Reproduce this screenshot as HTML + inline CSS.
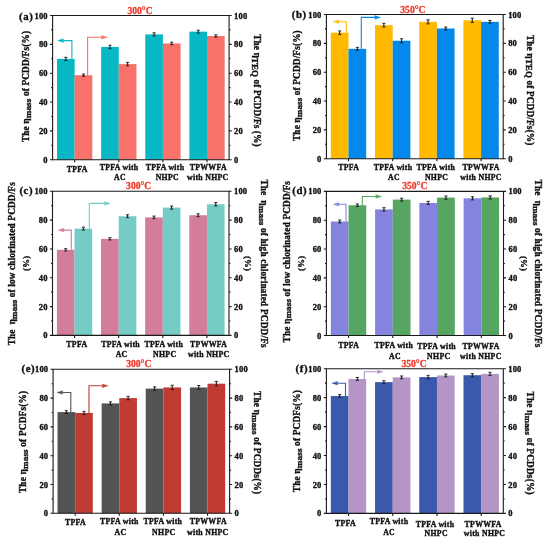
<!DOCTYPE html>
<html><head><meta charset="utf-8"><style>
html,body{margin:0;padding:0;background:#fff;}
body{width:550px;height:544px;overflow:hidden;}
svg{display:block;will-change:transform;filter:blur(0.3px);}
text{font-family:"Liberation Serif", serif;font-weight:bold;fill:#111;stroke:#111;stroke-width:0.35px;}
</style></head><body>
<svg width="550" height="544" viewBox="0 0 550 544">
<rect width="550" height="544" fill="#fff"/>
<rect x="57.01" y="58.90" width="17.65" height="100.80" fill="#07B8C4"/>
<rect x="74.66" y="75.20" width="17.65" height="84.50" fill="#F8716A"/>
<rect x="101.14" y="46.94" width="17.65" height="112.76" fill="#07B8C4"/>
<rect x="118.79" y="64.10" width="17.65" height="95.60" fill="#F8716A"/>
<rect x="145.26" y="34.39" width="17.65" height="125.31" fill="#07B8C4"/>
<rect x="162.91" y="43.47" width="17.65" height="116.23" fill="#F8716A"/>
<rect x="189.39" y="31.65" width="17.65" height="128.05" fill="#07B8C4"/>
<rect x="207.04" y="35.98" width="17.65" height="123.72" fill="#F8716A"/>
<path d="M64.24 57.32H67.44M64.24 60.49H67.44" stroke="#1e1e1e" stroke-width="0.9" fill="none"/><path d="M65.84 57.32V60.49" stroke="#1e1e1e" stroke-width="1.1" fill="none"/>
<path d="M81.89 74.05H85.09M81.89 76.35H85.09" stroke="#1e1e1e" stroke-width="0.9" fill="none"/><path d="M83.49 74.05V76.35" stroke="#1e1e1e" stroke-width="1.1" fill="none"/>
<path d="M108.36 45.21H111.56M108.36 48.67H111.56" stroke="#1e1e1e" stroke-width="0.9" fill="none"/><path d="M109.96 45.21V48.67" stroke="#1e1e1e" stroke-width="1.1" fill="none"/>
<path d="M126.01 62.36H129.21M126.01 65.83H129.21" stroke="#1e1e1e" stroke-width="0.9" fill="none"/><path d="M127.61 62.36V65.83" stroke="#1e1e1e" stroke-width="1.1" fill="none"/>
<path d="M152.49 32.80H155.69M152.49 35.98H155.69" stroke="#1e1e1e" stroke-width="0.9" fill="none"/><path d="M154.09 32.80V35.98" stroke="#1e1e1e" stroke-width="1.1" fill="none"/>
<path d="M170.14 42.18H173.34M170.14 44.77H173.34" stroke="#1e1e1e" stroke-width="0.9" fill="none"/><path d="M171.74 42.18V44.77" stroke="#1e1e1e" stroke-width="1.1" fill="none"/>
<path d="M196.61 30.21H199.81M196.61 33.09H199.81" stroke="#1e1e1e" stroke-width="0.9" fill="none"/><path d="M198.21 30.21V33.09" stroke="#1e1e1e" stroke-width="1.1" fill="none"/>
<path d="M214.26 34.82H217.46M214.26 37.13H217.46" stroke="#1e1e1e" stroke-width="0.9" fill="none"/><path d="M215.86 34.82V37.13" stroke="#1e1e1e" stroke-width="1.1" fill="none"/>
<path d="M71.90 58.90V40.60H63.30" stroke="#07B8C4" stroke-width="1.1" fill="none"/>
<path d="M57.70 40.60L63.50 38.80L63.20 40.60L63.50 42.40Z" fill="#07B8C4" stroke="#07B8C4" stroke-width="0.4" stroke-linejoin="round"/>
<path d="M87.60 75.20V37.30H101.70" stroke="#F8716A" stroke-width="1.1" fill="none"/>
<path d="M107.30 37.30L101.50 35.50L101.80 37.30L101.50 39.10Z" fill="#F8716A" stroke="#F8716A" stroke-width="0.4" stroke-linejoin="round"/>
<path d="M52.60 15.50V159.70H229.10V15.50Z" stroke="#1a1a1a" stroke-width="1.1" fill="none"/>
<path d="M50.00 159.70H52.60M229.10 159.70H231.70M51.20 145.28H52.60M229.10 145.28H230.50M50.00 130.86H52.60M229.10 130.86H231.70M51.20 116.44H52.60M229.10 116.44H230.50M50.00 102.02H52.60M229.10 102.02H231.70M51.20 87.60H52.60M229.10 87.60H230.50M50.00 73.18H52.60M229.10 73.18H231.70M51.20 58.76H52.60M229.10 58.76H230.50M50.00 44.34H52.60M229.10 44.34H231.70M51.20 29.92H52.60M229.10 29.92H230.50M50.00 15.50H52.60M229.10 15.50H231.70M74.66 159.70V162.20M118.79 159.70V162.20M162.91 159.70V162.20M207.04 159.70V162.20" stroke="#1a1a1a" stroke-width="1.1" fill="none"/>
<text x="47.70" y="162.79" text-anchor="end" font-size="8.5" letter-spacing="0.15">0</text>
<text x="234.10" y="162.79" text-anchor="start" font-size="8.5" letter-spacing="0.15">0</text>
<text x="47.70" y="133.95" text-anchor="end" font-size="8.5" letter-spacing="0.15">20</text>
<text x="234.10" y="133.95" text-anchor="start" font-size="8.5" letter-spacing="0.15">20</text>
<text x="47.70" y="105.11" text-anchor="end" font-size="8.5" letter-spacing="0.15">40</text>
<text x="234.10" y="105.11" text-anchor="start" font-size="8.5" letter-spacing="0.15">40</text>
<text x="47.70" y="76.27" text-anchor="end" font-size="8.5" letter-spacing="0.15">60</text>
<text x="234.10" y="76.27" text-anchor="start" font-size="8.5" letter-spacing="0.15">60</text>
<text x="47.70" y="47.43" text-anchor="end" font-size="8.5" letter-spacing="0.15">80</text>
<text x="234.10" y="47.43" text-anchor="start" font-size="8.5" letter-spacing="0.15">80</text>
<text x="47.70" y="18.59" text-anchor="end" font-size="8.5" letter-spacing="0.15">100</text>
<text x="234.10" y="18.59" text-anchor="start" font-size="8.5" letter-spacing="0.15">100</text>
<text x="77.30" y="172.00" text-anchor="middle" font-size="7.8" letter-spacing="0.3">TPFA</text>
<text x="119.10" y="169.60" text-anchor="middle" font-size="7.8" letter-spacing="0.3">TPFA with</text>
<text x="120.00" y="180.00" text-anchor="middle" font-size="7.8" letter-spacing="0.3">AC</text>
<text x="165.00" y="169.80" text-anchor="middle" font-size="7.8" letter-spacing="0.3">TPFA with</text>
<text x="167.30" y="180.00" text-anchor="middle" font-size="7.8" letter-spacing="0.3">NHPC</text>
<text x="208.30" y="169.80" text-anchor="middle" font-size="7.8" letter-spacing="0.3">TPWWFA</text>
<text x="207.80" y="180.20" text-anchor="middle" font-size="7.8" letter-spacing="0.3">with NHPC</text>
<text x="140.00" y="13.70" text-anchor="middle" font-size="9.6" letter-spacing="0" style="fill:#F03A2C;stroke:#F03A2C;stroke-width:0.3px">300°C</text>
<text x="19.10" y="19.70" font-size="10.8" letter-spacing="0.6">(a)</text>
<rect x="330.82" y="32.67" width="17.68" height="126.03" fill="#FFBA00"/>
<rect x="348.50" y="48.82" width="17.68" height="109.88" fill="#0389EC"/>
<rect x="375.02" y="25.17" width="17.68" height="133.53" fill="#FFBA00"/>
<rect x="392.70" y="40.74" width="17.68" height="117.96" fill="#0389EC"/>
<rect x="419.22" y="21.85" width="17.68" height="136.85" fill="#FFBA00"/>
<rect x="436.90" y="28.49" width="17.68" height="130.21" fill="#0389EC"/>
<rect x="463.42" y="20.27" width="17.68" height="138.43" fill="#FFBA00"/>
<rect x="481.10" y="21.85" width="17.68" height="136.85" fill="#0389EC"/>
<path d="M338.06 30.94H341.26M338.06 34.40H341.26" stroke="#1e1e1e" stroke-width="0.9" fill="none"/><path d="M339.66 30.94V34.40" stroke="#1e1e1e" stroke-width="1.1" fill="none"/>
<path d="M355.74 47.38H358.94M355.74 50.26H358.94" stroke="#1e1e1e" stroke-width="0.9" fill="none"/><path d="M357.34 47.38V50.26" stroke="#1e1e1e" stroke-width="1.1" fill="none"/>
<path d="M382.26 23.30H385.46M382.26 27.05H385.46" stroke="#1e1e1e" stroke-width="0.9" fill="none"/><path d="M383.86 23.30V27.05" stroke="#1e1e1e" stroke-width="1.1" fill="none"/>
<path d="M399.94 38.73H403.14M399.94 42.76H403.14" stroke="#1e1e1e" stroke-width="0.9" fill="none"/><path d="M401.54 38.73V42.76" stroke="#1e1e1e" stroke-width="1.1" fill="none"/>
<path d="M426.46 19.84H429.66M426.46 23.87H429.66" stroke="#1e1e1e" stroke-width="0.9" fill="none"/><path d="M428.06 19.84V23.87" stroke="#1e1e1e" stroke-width="1.1" fill="none"/>
<path d="M444.14 27.05H447.34M444.14 29.93H447.34" stroke="#1e1e1e" stroke-width="0.9" fill="none"/><path d="M445.74 27.05V29.93" stroke="#1e1e1e" stroke-width="1.1" fill="none"/>
<path d="M470.66 18.10H473.86M470.66 22.43H473.86" stroke="#1e1e1e" stroke-width="0.9" fill="none"/><path d="M472.26 18.10V22.43" stroke="#1e1e1e" stroke-width="1.1" fill="none"/>
<path d="M488.34 20.41H491.54M488.34 23.30H491.54" stroke="#1e1e1e" stroke-width="0.9" fill="none"/><path d="M489.94 20.41V23.30" stroke="#1e1e1e" stroke-width="1.1" fill="none"/>
<path d="M346.30 32.67V21.80H338.80" stroke="#FFBA00" stroke-width="1.1" fill="none"/>
<path d="M333.20 21.80L339.00 20.00L338.70 21.80L339.00 23.60Z" fill="#FFBA00" stroke="#FFBA00" stroke-width="0.4" stroke-linejoin="round"/>
<path d="M361.30 48.82V17.40H375.00" stroke="#0389EC" stroke-width="1.1" fill="none"/>
<path d="M380.60 17.40L374.80 15.60L375.10 17.40L374.80 19.20Z" fill="#0389EC" stroke="#0389EC" stroke-width="0.4" stroke-linejoin="round"/>
<path d="M326.40 14.50V158.70H503.20V14.50Z" stroke="#1a1a1a" stroke-width="1.1" fill="none"/>
<path d="M323.80 158.70H326.40M503.20 158.70H505.80M325.00 144.28H326.40M503.20 144.28H504.60M323.80 129.86H326.40M503.20 129.86H505.80M325.00 115.44H326.40M503.20 115.44H504.60M323.80 101.02H326.40M503.20 101.02H505.80M325.00 86.60H326.40M503.20 86.60H504.60M323.80 72.18H326.40M503.20 72.18H505.80M325.00 57.76H326.40M503.20 57.76H504.60M323.80 43.34H326.40M503.20 43.34H505.80M325.00 28.92H326.40M503.20 28.92H504.60M323.80 14.50H326.40M503.20 14.50H505.80M348.50 158.70V161.20M392.70 158.70V161.20M436.90 158.70V161.20M481.10 158.70V161.20" stroke="#1a1a1a" stroke-width="1.1" fill="none"/>
<text x="321.50" y="161.79" text-anchor="end" font-size="8.5" letter-spacing="0.15">0</text>
<text x="508.20" y="161.79" text-anchor="start" font-size="8.5" letter-spacing="0.15">0</text>
<text x="321.50" y="132.95" text-anchor="end" font-size="8.5" letter-spacing="0.15">20</text>
<text x="508.20" y="132.95" text-anchor="start" font-size="8.5" letter-spacing="0.15">20</text>
<text x="321.50" y="104.11" text-anchor="end" font-size="8.5" letter-spacing="0.15">40</text>
<text x="508.20" y="104.11" text-anchor="start" font-size="8.5" letter-spacing="0.15">40</text>
<text x="321.50" y="75.27" text-anchor="end" font-size="8.5" letter-spacing="0.15">60</text>
<text x="508.20" y="75.27" text-anchor="start" font-size="8.5" letter-spacing="0.15">60</text>
<text x="321.50" y="46.43" text-anchor="end" font-size="8.5" letter-spacing="0.15">80</text>
<text x="508.20" y="46.43" text-anchor="start" font-size="8.5" letter-spacing="0.15">80</text>
<text x="321.50" y="17.59" text-anchor="end" font-size="8.5" letter-spacing="0.15">100</text>
<text x="508.20" y="17.59" text-anchor="start" font-size="8.5" letter-spacing="0.15">100</text>
<text x="348.80" y="169.60" text-anchor="middle" font-size="7.8" letter-spacing="0.3">TPFA</text>
<text x="393.00" y="169.60" text-anchor="middle" font-size="7.8" letter-spacing="0.3">TPFA with</text>
<text x="394.00" y="180.00" text-anchor="middle" font-size="7.8" letter-spacing="0.3">AC</text>
<text x="435.90" y="169.60" text-anchor="middle" font-size="7.8" letter-spacing="0.3">TPFA with</text>
<text x="436.60" y="180.00" text-anchor="middle" font-size="7.8" letter-spacing="0.3">NHPC</text>
<text x="481.00" y="169.60" text-anchor="middle" font-size="7.8" letter-spacing="0.3">TPWWFA</text>
<text x="481.00" y="180.00" text-anchor="middle" font-size="7.8" letter-spacing="0.3">with NHPC</text>
<text x="412.90" y="12.60" text-anchor="middle" font-size="9.6" letter-spacing="0" style="fill:#F03A2C;stroke:#F03A2C;stroke-width:0.3px">350°C</text>
<text x="291.80" y="18.20" font-size="10.8" letter-spacing="0.6">(b)</text>
<rect x="56.91" y="249.80" width="17.65" height="85.60" fill="#D47C9B"/>
<rect x="74.56" y="228.62" width="17.65" height="106.78" fill="#74CCC5"/>
<rect x="101.04" y="238.85" width="17.65" height="96.55" fill="#D47C9B"/>
<rect x="118.69" y="216.23" width="17.65" height="119.17" fill="#74CCC5"/>
<rect x="145.16" y="217.38" width="17.65" height="118.02" fill="#D47C9B"/>
<rect x="162.81" y="207.58" width="17.65" height="127.82" fill="#74CCC5"/>
<rect x="189.29" y="215.22" width="17.65" height="120.18" fill="#D47C9B"/>
<rect x="206.94" y="204.27" width="17.65" height="131.13" fill="#74CCC5"/>
<path d="M64.14 248.65H67.34M64.14 250.96H67.34" stroke="#1e1e1e" stroke-width="0.9" fill="none"/><path d="M65.74 248.65V250.96" stroke="#1e1e1e" stroke-width="1.1" fill="none"/>
<path d="M81.79 227.18H84.99M81.79 230.06H84.99" stroke="#1e1e1e" stroke-width="0.9" fill="none"/><path d="M83.39 227.18V230.06" stroke="#1e1e1e" stroke-width="1.1" fill="none"/>
<path d="M108.26 237.70H111.46M108.26 240.01H111.46" stroke="#1e1e1e" stroke-width="0.9" fill="none"/><path d="M109.86 237.70V240.01" stroke="#1e1e1e" stroke-width="1.1" fill="none"/>
<path d="M125.91 214.79H129.11M125.91 217.67H129.11" stroke="#1e1e1e" stroke-width="0.9" fill="none"/><path d="M127.51 214.79V217.67" stroke="#1e1e1e" stroke-width="1.1" fill="none"/>
<path d="M152.39 216.09H155.59M152.39 218.68H155.59" stroke="#1e1e1e" stroke-width="0.9" fill="none"/><path d="M153.99 216.09V218.68" stroke="#1e1e1e" stroke-width="1.1" fill="none"/>
<path d="M170.04 206.00H173.24M170.04 209.17H173.24" stroke="#1e1e1e" stroke-width="0.9" fill="none"/><path d="M171.64 206.00V209.17" stroke="#1e1e1e" stroke-width="1.1" fill="none"/>
<path d="M196.51 213.78H199.71M196.51 216.66H199.71" stroke="#1e1e1e" stroke-width="0.9" fill="none"/><path d="M198.11 213.78V216.66" stroke="#1e1e1e" stroke-width="1.1" fill="none"/>
<path d="M214.16 202.54H217.36M214.16 206.00H217.36" stroke="#1e1e1e" stroke-width="0.9" fill="none"/><path d="M215.76 202.54V206.00" stroke="#1e1e1e" stroke-width="1.1" fill="none"/>
<path d="M71.30 249.80V230.10H63.80" stroke="#D47C9B" stroke-width="1.1" fill="none"/>
<path d="M58.20 230.10L64.00 228.30L63.70 230.10L64.00 231.90Z" fill="#D47C9B" stroke="#D47C9B" stroke-width="0.4" stroke-linejoin="round"/>
<path d="M89.30 228.62V203.40H104.60" stroke="#74CCC5" stroke-width="1.1" fill="none"/>
<path d="M110.20 203.40L104.40 201.60L104.70 203.40L104.40 205.20Z" fill="#74CCC5" stroke="#74CCC5" stroke-width="0.4" stroke-linejoin="round"/>
<path d="M52.50 191.30V335.40H229.00V191.30Z" stroke="#1a1a1a" stroke-width="1.1" fill="none"/>
<path d="M49.90 335.40H52.50M229.00 335.40H231.60M51.10 320.99H52.50M229.00 320.99H230.40M49.90 306.58H52.50M229.00 306.58H231.60M51.10 292.17H52.50M229.00 292.17H230.40M49.90 277.76H52.50M229.00 277.76H231.60M51.10 263.35H52.50M229.00 263.35H230.40M49.90 248.94H52.50M229.00 248.94H231.60M51.10 234.53H52.50M229.00 234.53H230.40M49.90 220.12H52.50M229.00 220.12H231.60M51.10 205.71H52.50M229.00 205.71H230.40M49.90 191.30H52.50M229.00 191.30H231.60M74.56 335.40V337.90M118.69 335.40V337.90M162.81 335.40V337.90M206.94 335.40V337.90" stroke="#1a1a1a" stroke-width="1.1" fill="none"/>
<text x="47.60" y="338.49" text-anchor="end" font-size="8.5" letter-spacing="0.15">0</text>
<text x="234.00" y="338.49" text-anchor="start" font-size="8.5" letter-spacing="0.15">0</text>
<text x="47.60" y="309.67" text-anchor="end" font-size="8.5" letter-spacing="0.15">20</text>
<text x="234.00" y="309.67" text-anchor="start" font-size="8.5" letter-spacing="0.15">20</text>
<text x="47.60" y="280.85" text-anchor="end" font-size="8.5" letter-spacing="0.15">40</text>
<text x="234.00" y="280.85" text-anchor="start" font-size="8.5" letter-spacing="0.15">40</text>
<text x="47.60" y="252.03" text-anchor="end" font-size="8.5" letter-spacing="0.15">60</text>
<text x="234.00" y="252.03" text-anchor="start" font-size="8.5" letter-spacing="0.15">60</text>
<text x="47.60" y="223.21" text-anchor="end" font-size="8.5" letter-spacing="0.15">80</text>
<text x="234.00" y="223.21" text-anchor="start" font-size="8.5" letter-spacing="0.15">80</text>
<text x="47.60" y="194.39" text-anchor="end" font-size="8.5" letter-spacing="0.15">100</text>
<text x="234.00" y="194.39" text-anchor="start" font-size="8.5" letter-spacing="0.15">100</text>
<text x="76.85" y="346.70" text-anchor="middle" font-size="7.8" letter-spacing="0.3">TPFA</text>
<text x="120.60" y="346.70" text-anchor="middle" font-size="7.8" letter-spacing="0.3">TPFA with</text>
<text x="121.60" y="357.20" text-anchor="middle" font-size="7.8" letter-spacing="0.3">AC</text>
<text x="163.75" y="346.80" text-anchor="middle" font-size="7.8" letter-spacing="0.3">TPFA with</text>
<text x="164.70" y="357.20" text-anchor="middle" font-size="7.8" letter-spacing="0.3">NHPC</text>
<text x="208.70" y="346.80" text-anchor="middle" font-size="7.8" letter-spacing="0.3">TPWWFA</text>
<text x="208.70" y="357.20" text-anchor="middle" font-size="7.8" letter-spacing="0.3">with NHPC</text>
<text x="138.70" y="189.30" text-anchor="middle" font-size="9.6" letter-spacing="0" style="fill:#F03A2C;stroke:#F03A2C;stroke-width:0.3px">300°C</text>
<text x="19.40" y="194.10" font-size="10.8" letter-spacing="0.6">(c)</text>
<rect x="330.83" y="221.52" width="17.71" height="113.98" fill="#8483DD"/>
<rect x="348.54" y="205.23" width="17.71" height="130.27" fill="#56A560"/>
<rect x="375.10" y="209.41" width="17.71" height="126.09" fill="#8483DD"/>
<rect x="392.81" y="199.61" width="17.71" height="135.89" fill="#56A560"/>
<rect x="419.38" y="202.93" width="17.71" height="132.57" fill="#8483DD"/>
<rect x="437.09" y="197.60" width="17.71" height="137.90" fill="#56A560"/>
<rect x="463.65" y="198.32" width="17.71" height="137.18" fill="#8483DD"/>
<rect x="481.36" y="197.45" width="17.71" height="138.05" fill="#56A560"/>
<path d="M338.08 220.08H341.28M338.08 222.96H341.28" stroke="#1e1e1e" stroke-width="0.9" fill="none"/><path d="M339.68 220.08V222.96" stroke="#1e1e1e" stroke-width="1.1" fill="none"/>
<path d="M355.79 203.94H358.99M355.79 206.53H358.99" stroke="#1e1e1e" stroke-width="0.9" fill="none"/><path d="M357.39 203.94V206.53" stroke="#1e1e1e" stroke-width="1.1" fill="none"/>
<path d="M382.36 207.68H385.56M382.36 211.14H385.56" stroke="#1e1e1e" stroke-width="0.9" fill="none"/><path d="M383.96 207.68V211.14" stroke="#1e1e1e" stroke-width="1.1" fill="none"/>
<path d="M400.07 198.17H403.27M400.07 201.05H403.27" stroke="#1e1e1e" stroke-width="0.9" fill="none"/><path d="M401.67 198.17V201.05" stroke="#1e1e1e" stroke-width="1.1" fill="none"/>
<path d="M426.63 201.34H429.83M426.63 204.51H429.83" stroke="#1e1e1e" stroke-width="0.9" fill="none"/><path d="M428.23 201.34V204.51" stroke="#1e1e1e" stroke-width="1.1" fill="none"/>
<path d="M444.34 196.01H447.54M444.34 199.18H447.54" stroke="#1e1e1e" stroke-width="0.9" fill="none"/><path d="M445.94 196.01V199.18" stroke="#1e1e1e" stroke-width="1.1" fill="none"/>
<path d="M470.91 196.73H474.11M470.91 199.90H474.11" stroke="#1e1e1e" stroke-width="0.9" fill="none"/><path d="M472.51 196.73V199.90" stroke="#1e1e1e" stroke-width="1.1" fill="none"/>
<path d="M488.62 195.87H491.82M488.62 199.04H491.82" stroke="#1e1e1e" stroke-width="0.9" fill="none"/><path d="M490.22 195.87V199.04" stroke="#1e1e1e" stroke-width="1.1" fill="none"/>
<path d="M346.00 221.52V204.30H338.80" stroke="#8483DD" stroke-width="1.1" fill="none"/>
<path d="M333.20 204.30L339.00 202.50L338.70 204.30L339.00 206.10Z" fill="#8483DD" stroke="#8483DD" stroke-width="0.4" stroke-linejoin="round"/>
<path d="M362.30 205.23V196.50H375.90" stroke="#56A560" stroke-width="1.1" fill="none"/>
<path d="M381.50 196.50L375.70 194.70L376.00 196.50L375.70 198.30Z" fill="#56A560" stroke="#56A560" stroke-width="0.4" stroke-linejoin="round"/>
<path d="M326.40 191.40V335.50H503.50V191.40Z" stroke="#1a1a1a" stroke-width="1.1" fill="none"/>
<path d="M323.80 335.50H326.40M503.50 335.50H506.10M325.00 321.09H326.40M503.50 321.09H504.90M323.80 306.68H326.40M503.50 306.68H506.10M325.00 292.27H326.40M503.50 292.27H504.90M323.80 277.86H326.40M503.50 277.86H506.10M325.00 263.45H326.40M503.50 263.45H504.90M323.80 249.04H326.40M503.50 249.04H506.10M325.00 234.63H326.40M503.50 234.63H504.90M323.80 220.22H326.40M503.50 220.22H506.10M325.00 205.81H326.40M503.50 205.81H504.90M323.80 191.40H326.40M503.50 191.40H506.10M348.54 335.50V338.00M392.81 335.50V338.00M437.09 335.50V338.00M481.36 335.50V338.00" stroke="#1a1a1a" stroke-width="1.1" fill="none"/>
<text x="321.50" y="338.59" text-anchor="end" font-size="8.5" letter-spacing="0.15">0</text>
<text x="508.50" y="338.59" text-anchor="start" font-size="8.5" letter-spacing="0.15">0</text>
<text x="321.50" y="309.77" text-anchor="end" font-size="8.5" letter-spacing="0.15">20</text>
<text x="508.50" y="309.77" text-anchor="start" font-size="8.5" letter-spacing="0.15">20</text>
<text x="321.50" y="280.95" text-anchor="end" font-size="8.5" letter-spacing="0.15">40</text>
<text x="508.50" y="280.95" text-anchor="start" font-size="8.5" letter-spacing="0.15">40</text>
<text x="321.50" y="252.13" text-anchor="end" font-size="8.5" letter-spacing="0.15">60</text>
<text x="508.50" y="252.13" text-anchor="start" font-size="8.5" letter-spacing="0.15">60</text>
<text x="321.50" y="223.31" text-anchor="end" font-size="8.5" letter-spacing="0.15">80</text>
<text x="508.50" y="223.31" text-anchor="start" font-size="8.5" letter-spacing="0.15">80</text>
<text x="321.50" y="194.49" text-anchor="end" font-size="8.5" letter-spacing="0.15">100</text>
<text x="508.50" y="194.49" text-anchor="start" font-size="8.5" letter-spacing="0.15">100</text>
<text x="348.80" y="348.30" text-anchor="middle" font-size="7.8" letter-spacing="0.3">TPFA</text>
<text x="393.75" y="348.30" text-anchor="middle" font-size="7.8" letter-spacing="0.3">TPFA with</text>
<text x="394.90" y="358.80" text-anchor="middle" font-size="7.8" letter-spacing="0.3">AC</text>
<text x="436.60" y="348.60" text-anchor="middle" font-size="7.8" letter-spacing="0.3">TPFA with</text>
<text x="438.75" y="358.90" text-anchor="middle" font-size="7.8" letter-spacing="0.3">NHPC</text>
<text x="481.00" y="348.60" text-anchor="middle" font-size="7.8" letter-spacing="0.3">TPWWFA</text>
<text x="480.85" y="358.90" text-anchor="middle" font-size="7.8" letter-spacing="0.3">with NHPC</text>
<text x="414.80" y="189.00" text-anchor="middle" font-size="9.6" letter-spacing="0" style="fill:#F03A2C;stroke:#F03A2C;stroke-width:0.3px">350°C</text>
<text x="292.20" y="194.10" font-size="10.8" letter-spacing="0.6">(d)</text>
<rect x="57.51" y="412.07" width="17.65" height="101.23" fill="#545454"/>
<rect x="75.16" y="412.93" width="17.65" height="100.37" fill="#BF3B33"/>
<rect x="101.64" y="403.43" width="17.65" height="109.87" fill="#545454"/>
<rect x="119.29" y="398.10" width="17.65" height="115.20" fill="#BF3B33"/>
<rect x="145.76" y="388.60" width="17.65" height="124.70" fill="#545454"/>
<rect x="163.41" y="387.44" width="17.65" height="125.86" fill="#BF3B33"/>
<rect x="189.89" y="387.44" width="17.65" height="125.86" fill="#545454"/>
<rect x="207.54" y="383.70" width="17.65" height="129.60" fill="#BF3B33"/>
<path d="M64.74 410.63H67.94M64.74 413.51H67.94" stroke="#1e1e1e" stroke-width="0.9" fill="none"/><path d="M66.34 410.63V413.51" stroke="#1e1e1e" stroke-width="1.1" fill="none"/>
<path d="M82.39 411.35H85.59M82.39 414.52H85.59" stroke="#1e1e1e" stroke-width="0.9" fill="none"/><path d="M83.99 411.35V414.52" stroke="#1e1e1e" stroke-width="1.1" fill="none"/>
<path d="M108.86 401.84H112.06M108.86 405.01H112.06" stroke="#1e1e1e" stroke-width="0.9" fill="none"/><path d="M110.46 401.84V405.01" stroke="#1e1e1e" stroke-width="1.1" fill="none"/>
<path d="M126.51 396.37H129.71M126.51 399.83H129.71" stroke="#1e1e1e" stroke-width="0.9" fill="none"/><path d="M128.11 396.37V399.83" stroke="#1e1e1e" stroke-width="1.1" fill="none"/>
<path d="M152.99 386.87H156.19M152.99 390.32H156.19" stroke="#1e1e1e" stroke-width="0.9" fill="none"/><path d="M154.59 386.87V390.32" stroke="#1e1e1e" stroke-width="1.1" fill="none"/>
<path d="M170.64 385.28H173.84M170.64 389.60H173.84" stroke="#1e1e1e" stroke-width="0.9" fill="none"/><path d="M172.24 385.28V389.60" stroke="#1e1e1e" stroke-width="1.1" fill="none"/>
<path d="M197.11 385.57H200.31M197.11 389.32H200.31" stroke="#1e1e1e" stroke-width="0.9" fill="none"/><path d="M198.71 385.57V389.32" stroke="#1e1e1e" stroke-width="1.1" fill="none"/>
<path d="M214.76 381.40H217.96M214.76 386.00H217.96" stroke="#1e1e1e" stroke-width="0.9" fill="none"/><path d="M216.36 381.40V386.00" stroke="#1e1e1e" stroke-width="1.1" fill="none"/>
<path d="M70.80 412.07V392.50H62.50" stroke="#545454" stroke-width="1.1" fill="none"/>
<path d="M56.90 392.50L62.70 390.70L62.40 392.50L62.70 394.30Z" fill="#545454" stroke="#545454" stroke-width="0.4" stroke-linejoin="round"/>
<path d="M89.00 412.93V385.80H102.50" stroke="#BF3B33" stroke-width="1.1" fill="none"/>
<path d="M108.10 385.80L102.30 384.00L102.60 385.80L102.30 387.60Z" fill="#BF3B33" stroke="#BF3B33" stroke-width="0.4" stroke-linejoin="round"/>
<path d="M53.10 369.30V513.30H229.60V369.30Z" stroke="#1a1a1a" stroke-width="1.1" fill="none"/>
<path d="M50.50 513.30H53.10M229.60 513.30H232.20M51.70 498.90H53.10M229.60 498.90H231.00M50.50 484.50H53.10M229.60 484.50H232.20M51.70 470.10H53.10M229.60 470.10H231.00M50.50 455.70H53.10M229.60 455.70H232.20M51.70 441.30H53.10M229.60 441.30H231.00M50.50 426.90H53.10M229.60 426.90H232.20M51.70 412.50H53.10M229.60 412.50H231.00M50.50 398.10H53.10M229.60 398.10H232.20M51.70 383.70H53.10M229.60 383.70H231.00M50.50 369.30H53.10M229.60 369.30H232.20M75.16 513.30V515.80M119.29 513.30V515.80M163.41 513.30V515.80M207.54 513.30V515.80" stroke="#1a1a1a" stroke-width="1.1" fill="none"/>
<text x="48.20" y="516.39" text-anchor="end" font-size="8.5" letter-spacing="0.15">0</text>
<text x="234.60" y="516.39" text-anchor="start" font-size="8.5" letter-spacing="0.15">0</text>
<text x="48.20" y="487.59" text-anchor="end" font-size="8.5" letter-spacing="0.15">20</text>
<text x="234.60" y="487.59" text-anchor="start" font-size="8.5" letter-spacing="0.15">20</text>
<text x="48.20" y="458.79" text-anchor="end" font-size="8.5" letter-spacing="0.15">40</text>
<text x="234.60" y="458.79" text-anchor="start" font-size="8.5" letter-spacing="0.15">40</text>
<text x="48.20" y="429.99" text-anchor="end" font-size="8.5" letter-spacing="0.15">60</text>
<text x="234.60" y="429.99" text-anchor="start" font-size="8.5" letter-spacing="0.15">60</text>
<text x="48.20" y="401.19" text-anchor="end" font-size="8.5" letter-spacing="0.15">80</text>
<text x="234.60" y="401.19" text-anchor="start" font-size="8.5" letter-spacing="0.15">80</text>
<text x="48.20" y="372.39" text-anchor="end" font-size="8.5" letter-spacing="0.15">100</text>
<text x="234.60" y="372.39" text-anchor="start" font-size="8.5" letter-spacing="0.15">100</text>
<text x="75.55" y="524.50" text-anchor="middle" font-size="7.8" letter-spacing="0.3">TPFA</text>
<text x="119.40" y="524.30" text-anchor="middle" font-size="7.8" letter-spacing="0.3">TPFA with</text>
<text x="120.40" y="534.80" text-anchor="middle" font-size="7.8" letter-spacing="0.3">AC</text>
<text x="162.90" y="524.30" text-anchor="middle" font-size="7.8" letter-spacing="0.3">TPFA with</text>
<text x="163.75" y="534.70" text-anchor="middle" font-size="7.8" letter-spacing="0.3">NHPC</text>
<text x="208.25" y="524.30" text-anchor="middle" font-size="7.8" letter-spacing="0.3">TPWWFA</text>
<text x="207.80" y="534.70" text-anchor="middle" font-size="7.8" letter-spacing="0.3">with NHPC</text>
<text x="138.80" y="366.90" text-anchor="middle" font-size="9.6" letter-spacing="0" style="fill:#F03A2C;stroke:#F03A2C;stroke-width:0.3px">300°C</text>
<text x="21.50" y="372.40" font-size="10.8" letter-spacing="0.6">(e)</text>
<rect x="330.82" y="396.05" width="17.69" height="117.35" fill="#3A58AC"/>
<rect x="348.51" y="378.97" width="17.69" height="134.43" fill="#B495C6"/>
<rect x="375.05" y="382.16" width="17.69" height="131.24" fill="#3A58AC"/>
<rect x="392.74" y="377.38" width="17.69" height="136.02" fill="#B495C6"/>
<rect x="419.27" y="377.09" width="17.69" height="136.31" fill="#3A58AC"/>
<rect x="436.96" y="375.50" width="17.69" height="137.90" fill="#B495C6"/>
<rect x="463.50" y="375.21" width="17.69" height="138.19" fill="#3A58AC"/>
<rect x="481.19" y="373.91" width="17.69" height="139.49" fill="#B495C6"/>
<path d="M338.07 394.60H341.27M338.07 397.50H341.27" stroke="#1e1e1e" stroke-width="0.9" fill="none"/><path d="M339.67 394.60V397.50" stroke="#1e1e1e" stroke-width="1.1" fill="none"/>
<path d="M355.76 377.53H358.96M355.76 380.42H358.96" stroke="#1e1e1e" stroke-width="0.9" fill="none"/><path d="M357.36 377.53V380.42" stroke="#1e1e1e" stroke-width="1.1" fill="none"/>
<path d="M382.29 380.71H385.49M382.29 383.60H385.49" stroke="#1e1e1e" stroke-width="0.9" fill="none"/><path d="M383.89 380.71V383.60" stroke="#1e1e1e" stroke-width="1.1" fill="none"/>
<path d="M399.98 375.94H403.18M399.98 378.83H403.18" stroke="#1e1e1e" stroke-width="0.9" fill="none"/><path d="M401.58 375.94V378.83" stroke="#1e1e1e" stroke-width="1.1" fill="none"/>
<path d="M426.52 375.36H429.72M426.52 378.83H429.72" stroke="#1e1e1e" stroke-width="0.9" fill="none"/><path d="M428.12 375.36V378.83" stroke="#1e1e1e" stroke-width="1.1" fill="none"/>
<path d="M444.21 374.05H447.41M444.21 376.95H447.41" stroke="#1e1e1e" stroke-width="0.9" fill="none"/><path d="M445.81 374.05V376.95" stroke="#1e1e1e" stroke-width="1.1" fill="none"/>
<path d="M470.74 373.62H473.94M470.74 376.80H473.94" stroke="#1e1e1e" stroke-width="0.9" fill="none"/><path d="M472.34 373.62V376.80" stroke="#1e1e1e" stroke-width="1.1" fill="none"/>
<path d="M488.43 372.32H491.63M488.43 375.50H491.63" stroke="#1e1e1e" stroke-width="0.9" fill="none"/><path d="M490.03 372.32V375.50" stroke="#1e1e1e" stroke-width="1.1" fill="none"/>
<path d="M345.50 396.05V383.20H337.50" stroke="#3A58AC" stroke-width="1.1" fill="none"/>
<path d="M331.90 383.20L337.70 381.40L337.40 383.20L337.70 385.00Z" fill="#3A58AC" stroke="#3A58AC" stroke-width="0.4" stroke-linejoin="round"/>
<path d="M364.30 378.97V371.80H377.50" stroke="#B495C6" stroke-width="1.1" fill="none"/>
<path d="M383.10 371.80L377.30 370.00L377.60 371.80L377.30 373.60Z" fill="#B495C6" stroke="#B495C6" stroke-width="0.4" stroke-linejoin="round"/>
<path d="M326.40 368.70V513.40H503.30V368.70Z" stroke="#1a1a1a" stroke-width="1.1" fill="none"/>
<path d="M323.80 513.40H326.40M503.30 513.40H505.90M325.00 498.93H326.40M503.30 498.93H504.70M323.80 484.46H326.40M503.30 484.46H505.90M325.00 469.99H326.40M503.30 469.99H504.70M323.80 455.52H326.40M503.30 455.52H505.90M325.00 441.05H326.40M503.30 441.05H504.70M323.80 426.58H326.40M503.30 426.58H505.90M325.00 412.11H326.40M503.30 412.11H504.70M323.80 397.64H326.40M503.30 397.64H505.90M325.00 383.17H326.40M503.30 383.17H504.70M323.80 368.70H326.40M503.30 368.70H505.90M348.51 513.40V515.90M392.74 513.40V515.90M436.96 513.40V515.90M481.19 513.40V515.90" stroke="#1a1a1a" stroke-width="1.1" fill="none"/>
<text x="321.50" y="516.49" text-anchor="end" font-size="8.5" letter-spacing="0.15">0</text>
<text x="508.30" y="516.49" text-anchor="start" font-size="8.5" letter-spacing="0.15">0</text>
<text x="321.50" y="487.55" text-anchor="end" font-size="8.5" letter-spacing="0.15">20</text>
<text x="508.30" y="487.55" text-anchor="start" font-size="8.5" letter-spacing="0.15">20</text>
<text x="321.50" y="458.61" text-anchor="end" font-size="8.5" letter-spacing="0.15">40</text>
<text x="508.30" y="458.61" text-anchor="start" font-size="8.5" letter-spacing="0.15">40</text>
<text x="321.50" y="429.67" text-anchor="end" font-size="8.5" letter-spacing="0.15">60</text>
<text x="508.30" y="429.67" text-anchor="start" font-size="8.5" letter-spacing="0.15">60</text>
<text x="321.50" y="400.73" text-anchor="end" font-size="8.5" letter-spacing="0.15">80</text>
<text x="508.30" y="400.73" text-anchor="start" font-size="8.5" letter-spacing="0.15">80</text>
<text x="321.50" y="371.79" text-anchor="end" font-size="8.5" letter-spacing="0.15">100</text>
<text x="508.30" y="371.79" text-anchor="start" font-size="8.5" letter-spacing="0.15">100</text>
<text x="345.45" y="526.00" text-anchor="middle" font-size="7.8" letter-spacing="0.3">TPFA</text>
<text x="389.00" y="524.40" text-anchor="middle" font-size="7.8" letter-spacing="0.3">TPFA with</text>
<text x="389.10" y="534.50" text-anchor="middle" font-size="7.8" letter-spacing="0.3">AC</text>
<text x="435.00" y="526.60" text-anchor="middle" font-size="7.8" letter-spacing="0.3">TPFA with</text>
<text x="436.20" y="536.10" text-anchor="middle" font-size="7.8" letter-spacing="0.3">NHPC</text>
<text x="483.20" y="526.60" text-anchor="middle" font-size="7.8" letter-spacing="0.3">TPWWFA</text>
<text x="484.50" y="536.10" text-anchor="middle" font-size="7.8" letter-spacing="0.3">with NHPC</text>
<text x="414.00" y="366.90" text-anchor="middle" font-size="9.6" letter-spacing="0" style="fill:#F03A2C;stroke:#F03A2C;stroke-width:0.3px">350°C</text>
<text x="295.50" y="371.80" font-size="10.8" letter-spacing="0.6">(f)</text>
<text transform="translate(29.00,86.55) rotate(-90)" text-anchor="middle" font-size="9.3" textLength="111.1" lengthAdjust="spacing">The η<tspan font-size="9.02" dy="1.80">mass</tspan><tspan dy="-1.80"> of PCDD/Fs(%)</tspan></text>
<text transform="translate(254.30,90.40) rotate(90)" text-anchor="middle" font-size="9.3" textLength="112.4" lengthAdjust="spacing">The η<tspan font-size="9.02" dy="1.80">TEQ</tspan><tspan dy="-1.80"> of PCDD/Fs (%)</tspan></text>
<text transform="translate(299.80,85.65) rotate(-90)" text-anchor="middle" font-size="9.3" textLength="110.7" lengthAdjust="spacing">The η<tspan font-size="9.02" dy="1.80">mass</tspan><tspan dy="-1.80"> of PCDD/Fs(%)</tspan></text>
<text transform="translate(527.40,90.15) rotate(90)" text-anchor="middle" font-size="9.3" textLength="110.3" lengthAdjust="spacing">The η<tspan font-size="9.02" dy="1.80">TEQ</tspan><tspan dy="-1.80"> of PCDD/Fs(%)</tspan></text>
<text transform="translate(14.90,263.75) rotate(-90)" text-anchor="middle" font-size="9.3" textLength="163.1" lengthAdjust="spacing">The&#160; η<tspan font-size="9.02" dy="1.80">mass</tspan><tspan dy="-1.80"> of low chlorinated PCDD/Fs</tspan></text>
<text transform="translate(260.80,263.50) rotate(90)" text-anchor="middle" font-size="9.3" textLength="168.2" lengthAdjust="spacing">The&#160; η<tspan font-size="9.02" dy="1.80">mass</tspan><tspan dy="-1.80"> of high chlorinated PCDD/Fs</tspan></text>
<text transform="translate(289.60,261.70) rotate(-90)" text-anchor="middle" font-size="9.3" textLength="161.4" lengthAdjust="spacing">The η<tspan font-size="9.02" dy="1.80">mass</tspan><tspan dy="-1.80"> of low chlorinated PCDD/Fs</tspan></text>
<text transform="translate(535.20,263.50) rotate(90)" text-anchor="middle" font-size="9.3" textLength="167.8" lengthAdjust="spacing">The&#160; η<tspan font-size="9.02" dy="1.80">mass</tspan><tspan dy="-1.80"> of high chlorinated PCDD/Fs</tspan></text>
<text transform="translate(26.00,441.95) rotate(-90)" text-anchor="middle" font-size="9.3" textLength="102.3" lengthAdjust="spacing">The η<tspan font-size="9.02" dy="1.80">mass</tspan><tspan dy="-1.80"> of PCDFs(%)</tspan></text>
<text transform="translate(254.30,442.50) rotate(90)" text-anchor="middle" font-size="9.3" textLength="103.0" lengthAdjust="spacing">The η<tspan font-size="9.02" dy="1.80">mass</tspan><tspan dy="-1.80"> of PCDDs(%)</tspan></text>
<text transform="translate(300.10,441.15) rotate(-90)" text-anchor="middle" font-size="9.3" textLength="102.1" lengthAdjust="spacing">The η<tspan font-size="9.02" dy="1.80">mass</tspan><tspan dy="-1.80"> of PCDFs(%)</tspan></text>
<text transform="translate(527.00,443.00) rotate(90)" text-anchor="middle" font-size="9.3" textLength="103.0" lengthAdjust="spacing">The η<tspan font-size="9.02" dy="1.80">mass</tspan><tspan dy="-1.80"> of PCDDs(%)</tspan></text>
<text transform="translate(29.25,263.20) rotate(-90)" text-anchor="middle" font-size="8.74" letter-spacing="0.3">(%)</text>
<text transform="translate(244.90,263.60) rotate(90)" text-anchor="middle" font-size="8.74" letter-spacing="0.3">(%)</text>
<text transform="translate(304.00,263.20) rotate(-90)" text-anchor="middle" font-size="8.74" letter-spacing="0.3">(%)</text>
<text transform="translate(520.70,263.60) rotate(90)" text-anchor="middle" font-size="8.74" letter-spacing="0.3">(%)</text>
</svg>
</body></html>
